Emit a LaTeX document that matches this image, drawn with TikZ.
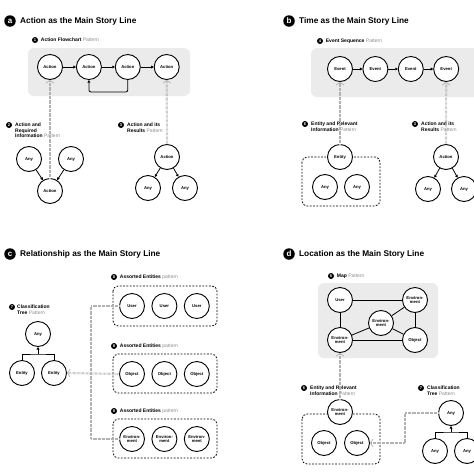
\documentclass[tikz,border=0pt]{standalone}
\usepackage{fontspec}
\setmainfont{Liberation Sans}
\usetikzlibrary{arrows.meta,positioning}
\newcommand{\patname}[1]{\textcolor{black!45}{\mdseries #1}}

\begin{document}
\begin{tikzpicture}[x=1pt,y=-1pt,
  node distance=13pt,
  item/.style={circle,draw,line width=0.9pt,fill=white,minimum size=25pt,inner sep=0pt,align=center,font=\fontsize{4.2}{4.6}\selectfont\bfseries},
  badge/.style={circle,fill=black,text=white,inner sep=0pt,minimum size=6pt,font=\fontsize{4}{4}\selectfont\bfseries},
  panel/.style={circle,fill=black,text=white,inner sep=0pt,minimum size=11.5pt,font=\fontsize{8}{8}\selectfont\bfseries},
  title/.style={anchor=west,inner sep=0pt,font=\fontsize{8.3}{10}\selectfont\bfseries},
  tag/.style={anchor=west,inner sep=0pt,align=left,font=\fontsize{5}{5.8}\selectfont\bfseries},
  flow/.style={line width=0.8pt,-{Triangle[length=2.6pt,width=2.8pt]}},
  ref/.style={black!30,line width=2.2pt,dash pattern=on 0.5pt off 0.8pt,-{Straight Barb[length=2.8pt,width=8pt,line width=0.7pt]}},
  shade/.style={fill=black!8,rounded corners=6pt},
  group/.style={draw,line width=0.8pt,dash pattern=on 1.8pt off 1.5pt,rounded corners=5pt},
  edge/.style={line width=0.8pt}
]
  \useasboundingbox (0,0) rectangle (474,474);

  \node[panel] (pa) at (10,21) {a};
  \node[title,right=4pt of pa] (ta) {Action as the Main Story Line};
  \fill[shade] (28,48) rectangle (190,96);
  \node[badge] (n1) at (35,40) {1};
  \node[tag,right=2.5pt of n1] (t1) {Action Flowchart \patname{Pattern}};
  \node[item] (a1) at (50,67) {Action};
  \node[item,right=of a1] (a2) {Action};
  \node[item,right=of a2] (a3) {Action};
  \node[item,right=of a3] (a4) {Action};
  \draw[flow] (a1) -- (a2);
  \draw[flow] (a2) -- (a3);
  \draw[flow] (a3) -- (a4);
  \draw[flow,rounded corners=2pt] (a3.south) -- ++(0,12) -| (a2.south);

  \node[badge] (n2) at (9,125) {2};
  \node[tag,anchor=north west] (t2) at (15,122.5) {Action and\\Required\\Information \patname{Pattern}};
  \node[item] (q1) at (29,159) {Any};
  \node[item] (q2) at (71,159) {Any};
  \node[item] (q3) at (50,191) {Action};
  \draw[flow] (q1) -- (q3);
  \draw[flow] (q2) -- (q3);
  \draw[ref] (q3) -- (a1);

  \node[badge] (n3) at (121,125) {3};
  \node[tag,anchor=north west] (t3) at (127,122.5) {Action and its\\Results \patname{Pattern}};
  \node[item] (r1) at (167,157) {Action};
  \node[item] (r2) at (148,188) {Any};
  \node[item] (r3) at (185,188) {Any};
  \draw[flow] (r1) -- (r2);
  \draw[flow] (r1) -- (r3);
  \draw[ref] (r1) -- (a4);

  \node[panel] (pb) at (289,21) {b};
  \node[title,right=4pt of pb] (tb) {Time as the Main Story Line};
  \fill[shade] (311,48) rectangle (484,97);
  \node[badge] (n4) at (320,41) {4};
  \node[tag,right=2.5pt of n4] (t4) {Event Sequence \patname{Pattern}};
  \node[item] (e1) at (340,69) {Event};
  \node[item,right=9.5pt of e1] (e2) {Event};
  \node[item,right=9.5pt of e2] (e3) {Event};
  \node[item,right=9.5pt of e3] (e4) {Event};
  \draw[flow] (e1) -- (e2);
  \draw[flow] (e2) -- (e3);
  \draw[flow] (e3) -- (e4);

  \draw[group] (302,157) rectangle (380,206);
  \node[badge] (n6) at (305,124) {6};
  \node[tag,anchor=north west] (t6) at (311,121.5) {Entity and Relevant\\Information \patname{Pattern}};
  \node[item] (s1) at (340,157) {Entity};
  \node[item] (s2) at (325,187) {Any};
  \node[item] (s3) at (357,187) {Any};
  \draw[ref] (s1) -- (e1);

  \node[badge] (n3b) at (415,124) {3};
  \node[tag,anchor=north west] (t3b) at (421,121.5) {Action and its\\Results \patname{Pattern}};
  \node[item] (w1) at (446,157) {Action};
  \node[item] (w2) at (428,189) {Any};
  \node[item] (w3) at (464,189) {Any};
  \draw[flow] (w1) -- (w2);
  \draw[flow] (w1) -- (w3);
  \draw[ref] (w1) -- (e4);

  \node[panel] (pc) at (10,254) {c};
  \node[title,right=4pt of pc] (tc) {Relationship as the Main Story Line};
  \node[badge] (n7) at (12,307) {7};
  \node[tag,anchor=north west] (t7) at (17,304.5) {Classification\\Tree \patname{Pattern}};
  \node[item] (c0) at (38,334) {Any};
  \node[item] (c1) at (22,373) {Entity};
  \node[item] (c2) at (54,373) {Entity};
  \coordinate (cfork) at (38,354);
  \draw[edge] (c1.north) |- (cfork) -| (c2.north);
  \draw[flow] (cfork) -- (c0);

  \draw[group] (113,286) rectangle (217,326);
  \node[badge] (n8a) at (114,277) {8};
  \node[tag,right=2.5pt of n8a] (t8a) {Assorted Entities \patname{pattern}};
  \node[item] (u1) at (132,306) {User};
  \node[item,right=6.5pt of u1] (u2) {User};
  \node[item,right=6.5pt of u2] (u3) {User};

  \draw[group] (113,354) rectangle (217,393);
  \node[badge] (n8b) at (114,346) {8};
  \node[tag,right=2.5pt of n8b] (t8b) {Assorted Entities \patname{pattern}};
  \node[item] (o1) at (132,374) {Object};
  \node[item,right=6.5pt of o1] (o2) {Object};
  \node[item,right=6.5pt of o2] (o3) {Object};

  \draw[group] (113,419) rectangle (217,458);
  \node[badge] (n8c) at (114,411) {8};
  \node[tag,right=2.5pt of n8c] (t8c) {Assorted Entities \patname{pattern}};
  \node[item] (v1) at (132,439) {Environ-\\ment};
  \node[item,right=6.5pt of v1] (v2) {Environ-\\ment};
  \node[item,right=6.5pt of v2] (v3) {Environ-\\ment};

  \draw[ref,-] (u1.west) -- ++(-28,0) |- (v1.west);
  \draw[ref] (o1.west) -- (c2.east);

  \node[panel] (pd) at (289,254) {d};
  \node[title,right=4pt of pd] (td) {Location as the Main Story Line};
  \fill[shade] (318,283) rectangle (438,358);
  \node[badge] (n5) at (331,276) {5};
  \node[tag,right=2.5pt of n5] (t5) {Map \patname{Pattern}};
  \node[item] (m1) at (340,300) {User};
  \node[item] (m2) at (415,300) {Environ-\\ment};
  \node[item] (m3) at (381,323) {Environ-\\ment};
  \node[item] (m4) at (340,340) {Environ-\\ment};
  \node[item] (m5) at (415,340) {Object};
  \draw[edge] (m1) -- (m2);
  \draw[edge] (m1) -- (m4);
  \draw[edge] (m2) -- (m5);
  \draw[edge] (m4) -- (m5);
  \draw[edge] (m3) -- (m2);
  \draw[edge] (m3) -- (m4);
  \draw[edge] (m3) -- (m5);

  \draw[group] (302,414) rectangle (380,464);
  \node[badge] (n6d) at (304,388) {6};
  \node[tag,anchor=north west] (t6d) at (310,385.5) {Entity and Relevant\\Information \patname{Pattern}};
  \node[item] (g1) at (340,412) {Environ-\\ment};
  \node[item] (g2) at (324,443) {Object};
  \node[item] (g3) at (357,443) {Object};
  \draw[ref] (g1) -- (m4);

  \node[badge] (n7d) at (421,388) {7};
  \node[tag,anchor=north west] (t7d) at (427,385.5) {Classification\\Tree \patname{Pattern}};
  \node[item] (k1) at (451,413) {Any};
  \node[item] (k2) at (435,451) {Any};
  \node[item] (k3) at (467,451) {Any};
  \coordinate (kfork) at (451,432);
  \draw[edge] (k2.north) |- (kfork) -| (k3.north);
  \draw[flow] (kfork) -- (k1);
  \draw[ref] (k1.west) -- ++(-33,0) |- (g3.east);
\end{tikzpicture}
\end{document}
